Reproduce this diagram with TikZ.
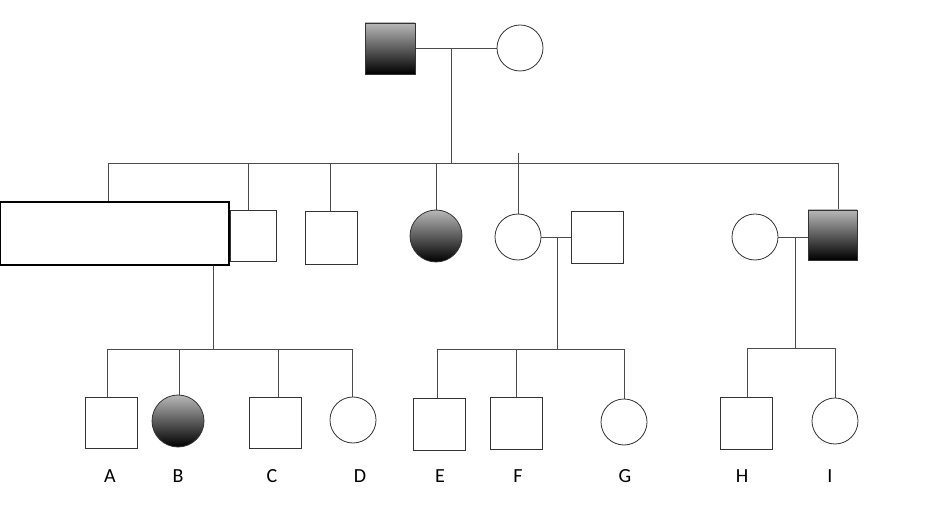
\documentclass[tikz,border=0pt]{standalone}
\usepackage{fontspec}
\setmainfont{Carlito}
\begin{document}
\begin{tikzpicture}[x=1pt,y=-1pt,
  ln/.style={draw=black!70,line width=0.9pt},
  sq/.style={draw=black!80,line width=0.8pt,fill=white},
  sh/.style={draw=black!80,line width=0.8pt,top color=black!28,bottom color=black},
  lab/.style={font=\fontsize{20}{24}\selectfont,anchor=center}]
\useasboundingbox (0,0) rectangle (950,518);
% gen1
\coordinate (m1) at (451,48);
\draw[ln] (415,48) -- (497,48);
\draw[ln] (m1) -- (451,163);
\draw[sh] (365,23) rectangle (415,74);
\draw[sq] (520,48) circle (23);
% sibling line
\draw[ln] (108,163) -- (838,163);
\draw[ln] (518,153) -- (518,214);
\foreach \x/\y in {108/205,248/210,330/211,436/210,838/210} \draw[ln] (\x,163) -- (\x,\y);
% gen2
\draw[sq] (230,210) rectangle (276,261);
\draw[sq] (305,211) rectangle (357,264);
\draw[sh] (436,236) circle (26);
\draw[ln] (541,237) -- (571,237);
\draw[ln] (557,237) -- (557,349);
\draw[sq] (518,237) circle (23);
\draw[sq] (571,211) rectangle (623,263);
\draw[ln] (778,237) -- (808,237);
\draw[ln] (795,237) -- (795,348);
\draw[sq] (755,237) circle (23);
\draw[sh] (808,210) rectangle (857,260);
\draw[ln] (213,265) -- (213,349);
\draw[line width=2pt,fill=white] (0,202) rectangle (229,265);
% gen3 lines
\draw[ln] (107,349) -- (352,349);
\foreach \x/\y in {107/397,179/396,278/397,352/398} \draw[ln] (\x,349) -- (\x,\y);
\draw[ln] (437,349) -- (624,349);
\foreach \x/\y in {437/398,516/397,624/399} \draw[ln] (\x,349) -- (\x,\y);
\draw[ln] (747,348) -- (835,348);
\foreach \x/\y in {747/397,835/398} \draw[ln] (\x,348) -- (\x,\y);
% gen3 shapes
\draw[sq] (85,397) rectangle (137,448);
\draw[sh] (178,421) circle (26);
\draw[sq] (249,397) rectangle (301,448);
\draw[sq] (353,420) circle (23);
\draw[sq] (413,398) rectangle (465,450);
\draw[sq] (490,397) rectangle (542,449);
\draw[sq] (624,422) circle (23);
\draw[sq] (720,397) rectangle (772,449);
\draw[sq] (835,421) circle (23);
\foreach \t/\x in {A/110,B/178,C/272,D/360,E/440,F/518,G/625,H/742,I/830}
  \node[lab] (l\t) at (\x,476) {\t};
\end{tikzpicture}
\end{document}
